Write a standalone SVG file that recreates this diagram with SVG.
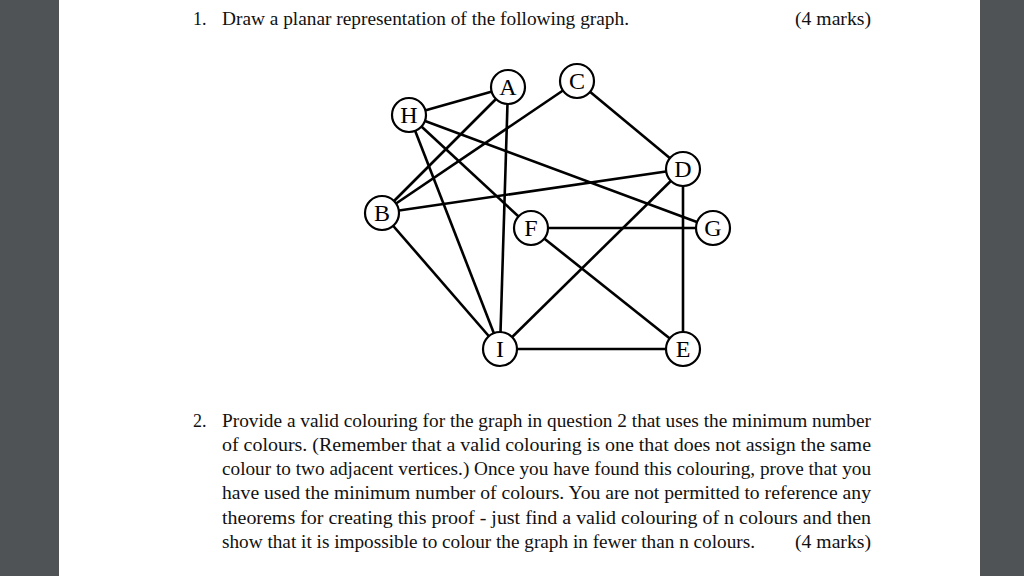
<svg xmlns="http://www.w3.org/2000/svg" width="1024" height="576" viewBox="0 0 1024 576">
<style>
.t{font-family:"Liberation Serif","Times New Roman",serif;font-size:18px;fill:#111}
.n circle{fill:#fff;stroke:#000;stroke-width:2.2}
.n text{font-family:"Liberation Serif",serif;font-size:24px;text-anchor:middle;fill:#000}
#edges line{stroke:#000;stroke-width:2.6}
</style>
<rect width="1024" height="576" fill="#505356"/>
<rect x="59" y="0" width="921" height="576" fill="#fff"/>
<text class="t" x="193" y="25">1.</text>
<text class="t" x="222" y="25" textLength="407" lengthAdjust="spacingAndGlyphs">Draw a planar representation of the following graph.</text>
<text class="t" x="795" y="25" textLength="76" lengthAdjust="spacingAndGlyphs">(4 marks)</text>
<g id="edges">
<line x1="409" y1="115" x2="508" y2="87"/>
<line x1="409" y1="115" x2="531" y2="228"/>
<line x1="409" y1="115" x2="713" y2="228"/>
<line x1="409" y1="115" x2="500" y2="349"/>
<line x1="508" y1="87" x2="382" y2="213"/>
<line x1="508" y1="87" x2="500" y2="349"/>
<line x1="577" y1="81" x2="382" y2="213"/>
<line x1="577" y1="81" x2="683" y2="169"/>
<line x1="382" y1="213" x2="683" y2="169"/>
<line x1="382" y1="213" x2="500" y2="349"/>
<line x1="531" y1="228" x2="713" y2="228"/>
<line x1="531" y1="228" x2="683" y2="349"/>
<line x1="683" y1="169" x2="500" y2="349"/>
<line x1="683" y1="169" x2="683" y2="349"/>
<line x1="500" y1="349" x2="683" y2="349"/>
</g>
<g id="A" class="n"><circle cx="508" cy="87" r="17"/><text x="508" y="95">A</text></g>
<g id="C" class="n"><circle cx="577" cy="81" r="17"/><text x="577" y="89">C</text></g>
<g id="H" class="n"><circle cx="409" cy="115" r="17"/><text x="409" y="123">H</text></g>
<g id="D" class="n"><circle cx="683" cy="169" r="17"/><text x="683" y="177">D</text></g>
<g id="B" class="n"><circle cx="382" cy="213" r="17"/><text x="382" y="221">B</text></g>
<g id="F" class="n"><circle cx="531" cy="228" r="17"/><text x="531" y="236">F</text></g>
<g id="G" class="n"><circle cx="713" cy="228" r="17"/><text x="713" y="236">G</text></g>
<g id="I" class="n"><circle cx="500" cy="349" r="17"/><text x="500" y="357">I</text></g>
<g id="E" class="n"><circle cx="683" cy="349" r="17"/><text x="683" y="357">E</text></g>
<text class="t" x="193" y="427">2.</text>
<text class="t" x="222" y="427" textLength="649" lengthAdjust="spacingAndGlyphs">Provide a valid colouring for the graph in question 2 that uses the minimum number</text>
<text class="t" x="222" y="451" textLength="649" lengthAdjust="spacingAndGlyphs">of colours. (Remember that a valid colouring is one that does not assign the same</text>
<text class="t" x="222" y="475" textLength="649" lengthAdjust="spacingAndGlyphs">colour to two adjacent vertices.) Once you have found this colouring, prove that you</text>
<text class="t" x="222" y="499" textLength="649" lengthAdjust="spacingAndGlyphs">have used the minimum number of colours. You are not permitted to reference any</text>
<text class="t" x="222" y="524" textLength="649" lengthAdjust="spacingAndGlyphs">theorems for creating this proof - just find a valid colouring of n colours and then</text>
<text class="t" x="222" y="548" textLength="533" lengthAdjust="spacingAndGlyphs">show that it is impossible to colour the graph in fewer than n colours.</text>
<text class="t" x="795" y="548" textLength="76" lengthAdjust="spacingAndGlyphs">(4 marks)</text>
</svg>
